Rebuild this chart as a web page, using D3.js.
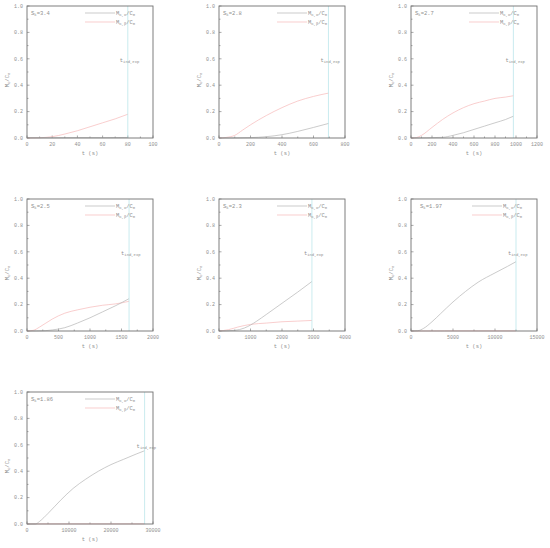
<!DOCTYPE html>
<html><head><meta charset="utf-8">
<script src="https://cdn.jsdelivr.net/npm/d3@7"></script>
<style>
body{margin:0;background:#fff;}
svg text{font-family:"Liberation Mono","DejaVu Sans Mono",monospace;fill:#909090;}
</style></head>
<body><svg id="c" width="550" height="548"></svg>
<script>
// Panel labels (S value), x-axis max, tick step, t_ind,exp
const sLabels = ["3.4", "2.8", "2.7", "2.5", "2.3", "1.97", "1.86"];
const xMax = [100, 800, 1200, 2000, 4000, 15000, 30000];
const xStep = [20, 200, 200, 500, 1000, 5000, 10000];
const tInd = [80, 695, 975, 1620, 2950, 12500, 28000];
const yTicks = [0, 0.2, 0.4, 0.6, 0.8, 1.0];

// Series: [t, value]
const alpha1 = [[0,0.002],[20,0.002],[40,0.003],[60,0.003],[80,0.004]];
const beta1  = [[0,0],[10,0.002],[20,0.01],[30,0.03],[40,0.055],[50,0.085],[60,0.115],[70,0.145],[80,0.18]];
const alpha2 = [[0,0],[200,0.003],[300,0.01],[400,0.025],[500,0.05],[600,0.08],[695,0.11]];
const beta2  = [[0,0],[50,0.005],[100,0.02],[150,0.06],[200,0.1],[300,0.17],[400,0.23],[500,0.28],[600,0.315],[695,0.34]];
const alpha3 = [[0,0],[300,0.005],[400,0.02],[500,0.04],[600,0.065],[700,0.09],[800,0.115],[900,0.14],[975,0.165]];
const beta3  = [[0,0],[50,0.003],[100,0.02],[200,0.08],[300,0.14],[400,0.19],[500,0.23],[600,0.26],[700,0.28],[800,0.3],[900,0.31],[975,0.32]];
const alpha4 = [[0,0],[300,0.003],[400,0.008],[600,0.025],[800,0.06],[1000,0.1],[1200,0.145],[1400,0.19],[1620,0.245]];
const beta4  = [[0,0],[100,0.005],[200,0.03],[300,0.06],[400,0.09],[500,0.115],[600,0.135],[800,0.16],[1000,0.18],[1200,0.195],[1400,0.205],[1620,0.225]];
const alpha5 = [[0,0],[500,0.005],[800,0.022],[1000,0.045],[1200,0.075],[1500,0.125],[2000,0.21],[2500,0.295],[2950,0.375]];
const beta5  = [[0,0],[300,0.01],[600,0.03],[1000,0.05],[1500,0.06],[2000,0.07],[2500,0.075],[2950,0.08]];
const alpha6 = [[0,0],[800,0.002],[1500,0.02],[2500,0.07],[3500,0.13],[5000,0.22],[6500,0.3],[8000,0.37],[10000,0.44],[11500,0.49],[12500,0.525]];
const beta6  = [[0,0],[4000,0.001],[8000,0.001],[12500,0.001]];
const alpha7 = [[0,0],[2000,0],[3000,0.02],[5000,0.08],[8000,0.18],[11000,0.27],[14000,0.34],[17000,0.4],[20000,0.45],[23000,0.49],[26000,0.53],[28000,0.555]];
const beta7  = [[0,0.001],[10000,0.001],[20000,0.001],[28000,0.001]];

const alphas = [alpha1, alpha2, alpha3, alpha4, alpha5, alpha6, alpha7];
const betas = [beta1, beta2, beta3, beta4, beta5, beta6, beta7];

const colLeft = [27, 219, 411];
const rowTop = [6, 199, 392];
const W = 126, H = 132;
const svg = d3.select("#c");
const grayC = "#b4b4b4", pinkC = "#f6b9b9", cyanC = "#b3e2e8", frameC = "#707070";

function sub(textSel, parts, fs) {
  parts.forEach(([t, s]) => {
    const ts = textSel.append("tspan").text(t);
    if (s) ts.attr("font-size", fs * 0.7).attr("baseline-shift", "-25%");
  });
}

for (let i = 0; i < 7; i++) {
  const L = colLeft[i % 3], T = rowTop[Math.floor(i / 3)];
  const g = svg.append("g").attr("transform", `translate(${L},${T})`);
  const x = d3.scaleLinear().domain([0, xMax[i]]).range([0, W]);
  const y = d3.scaleLinear().domain([0, 1]).range([H, 0]);
  const xt = d3.range(0, xMax[i] + 1e-9, xStep[i]);
  const xm = d3.range(xStep[i] / 2, xMax[i], xStep[i]);
  const ym = d3.range(0.1, 1, 0.2);

  g.selectAll(".xt").data(xt).join("line").attr("x1", d => x(d)).attr("x2", d => x(d))
    .attr("y1", H).attr("y2", H - 2.5).attr("stroke", frameC).attr("stroke-width", 0.6);
  g.selectAll(".xm").data(xm).join("line").attr("x1", d => x(d)).attr("x2", d => x(d))
    .attr("y1", H).attr("y2", H - 1.5).attr("stroke", frameC).attr("stroke-width", 0.6);
  g.selectAll(".yt").data(yTicks).join("line").attr("x1", 0).attr("x2", 2.5)
    .attr("y1", d => y(d)).attr("y2", d => y(d)).attr("stroke", frameC).attr("stroke-width", 0.6);
  g.selectAll(".ym").data(ym).join("line").attr("x1", 0).attr("x2", 1.5)
    .attr("y1", d => y(d)).attr("y2", d => y(d)).attr("stroke", frameC).attr("stroke-width", 0.6);

  g.selectAll(".xl").data(xt).join("text").attr("x", d => x(d)).attr("y", H + 8)
    .attr("text-anchor", "middle").attr("font-size", 5).text(d => d);
  g.selectAll(".yl").data(yTicks).join("text").attr("x", -4).attr("y", d => y(d) + 1.7)
    .attr("text-anchor", "end").attr("font-size", 5).text(d => d.toFixed(1));

  g.append("text").attr("x", W / 2).attr("y", H + 17).attr("text-anchor", "middle")
    .attr("font-size", 5.5).text("t (s)");
  const yl = g.append("text").attr("transform", `translate(-18,${H / 2 + 8}) rotate(-90)`)
    .attr("text-anchor", "middle").attr("font-size", 5.5);
  sub(yl, [["M", false], ["C", true], ["/C", false], ["0", true]], 5.5);

  const line = d3.line().x(d => x(d[0])).y(d => y(d[1])).curve(d3.curveMonotoneX);
  g.append("path").datum(betas[i]).attr("d", line).attr("fill", "none")
    .attr("stroke", pinkC).attr("stroke-width", 0.7);
  g.append("path").datum(alphas[i]).attr("d", line).attr("fill", "none")
    .attr("stroke", grayC).attr("stroke-width", 0.7);

  g.append("line").attr("x1", x(tInd[i])).attr("x2", x(tInd[i])).attr("y1", 0).attr("y2", H)
    .attr("stroke", cyanC).attr("stroke-width", 0.7);
  const tl = g.append("text").attr("x", x(tInd[i]) - 8).attr("y", y(0.6) + 3).attr("font-size", 5.5);
  sub(tl, [["t", false], ["ind,exp", true]], 5.5);

  const sl = g.append("text").attr("x", i === 5 ? 9 : 4).attr("y", 9).attr("font-size", 5.5);
  sub(sl, [["S", false], ["k", true], ["=" + sLabels[i], false]], 5.5);

  const lx = i === 5 ? 61 : 58;
  [["α", grayC, 7], ["β", pinkC, 16]].forEach(([s, c, yy]) => {
    g.append("line").attr("x1", lx).attr("x2", lx + 30).attr("y1", yy).attr("y2", yy)
      .attr("stroke", c).attr("stroke-width", 0.7);
    const lt = g.append("text").attr("x", lx + 31).attr("y", yy + 2).attr("font-size", 5.5);
    sub(lt, [["M", false], ["C," + s, true], ["/C", false], ["0", true]], 5.5);
  });

  g.append("rect").attr("x", 0).attr("y", 0).attr("width", W).attr("height", H)
    .attr("fill", "none").attr("stroke", frameC).attr("stroke-width", 0.9);
}
</script></body></html>
